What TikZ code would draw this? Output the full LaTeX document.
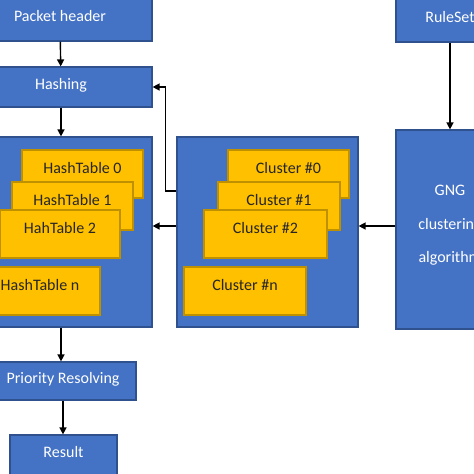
\documentclass[tikz,border=0pt]{standalone}
\usepackage{fontspec}
\setmainfont{Carlito}
\usetikzlibrary{arrows.meta}
\definecolor{bfill}{HTML}{4472C4}
\definecolor{bdraw}{HTML}{2F528F}
\definecolor{yfill}{HTML}{FFC000}
\definecolor{ydraw}{HTML}{BF9000}
\tikzset{
  bluebox/.style={rectangle, draw=bdraw, fill=bfill, line width=1.2pt, text=white, inner sep=0pt, text height=11pt, text depth=7pt, font=\fontsize{16}{18}\selectfont},
  yelbox/.style={rectangle, draw=ydraw, fill=yfill, line width=1.2pt, text=black!85, inner sep=0pt, minimum height=48pt, text height=11pt, text depth=12pt, font=\fontsize{16}{18}\selectfont},
  arr/.style={-{Triangle[length=7pt,width=7pt]}, line width=1.4pt, black},
}
\begin{document}
\begin{tikzpicture}[x=1pt,y=-1pt]
\useasboundingbox (0,0) rectangle (474,474);
\clip (0,0) rectangle (474,474);
\node[bluebox, minimum width=184pt, minimum height=44pt] (ph) at (60,19) {Packet header};
\node[bluebox, minimum width=182pt, minimum height=40pt] (hash) at (61,87) {Hashing};
\node[bluebox, minimum width=182pt, minimum height=190pt] (htc) at (61,232) {};
\node[yelbox, minimum width=121pt] (ht0) at (82.5,174) {HashTable 0};
\node[yelbox, minimum width=121pt] (ht1) at (72.5,206) {HashTable 1};
\node[yelbox, minimum width=120pt] (ht2) at (60,234) {HahTable 2};
\node[yelbox, minimum width=120pt] (htn) at (40,291) {HashTable n};
\node[bluebox, minimum width=181pt, minimum height=190pt] (cc) at (267.5,232) {};
\node[yelbox, minimum width=121pt] (c0) at (288.5,174) {Cluster \#0};
\node[yelbox, minimum width=122pt] (c1) at (279,206) {Cluster \#1};
\node[yelbox, minimum width=123pt] (c2) at (265.5,234) {Cluster \#2};
\node[yelbox, minimum width=122pt] (cn) at (245,291) {Cluster \#n};
\node[bluebox, minimum width=108pt, minimum height=44pt] (rs) at (450,20) {RuleSet};
\node[bluebox, minimum width=108pt, minimum height=199pt, align=center, text height=, text depth=, font=\fontsize{16}{33.5}\selectfont] (gng) at (450,229.5) {GNG\\clustering\\algorithm\\[-33pt]\strut};
\node[bluebox, minimum width=146pt, minimum height=38pt] (pr) at (63,381) {Priority Resolving};
\node[bluebox, minimum width=107pt, minimum height=41pt] (res) at (63.5,455.5) {Result};
\draw[arr] (ph) -- (hash);
\draw[arr] (hash) -- (htc);
\draw[arr] (htc.south) -- (htc.south |- pr.north);
\draw[arr] (pr.south) -- (pr.south |- res.north);
\draw[arr] (rs) -- (gng);
\draw[arr] ([yshift=3.5pt]gng.west) -- ([yshift=3.5pt]gng.west -| cc.east);
\draw[arr] ([yshift=6pt]cc.west) -- ([yshift=6pt]cc.west -| htc.east);
\draw[arr] ([yshift=41pt]cc.west) -- ++(-11,0) |- (hash.east);
\end{tikzpicture}
\end{document}
